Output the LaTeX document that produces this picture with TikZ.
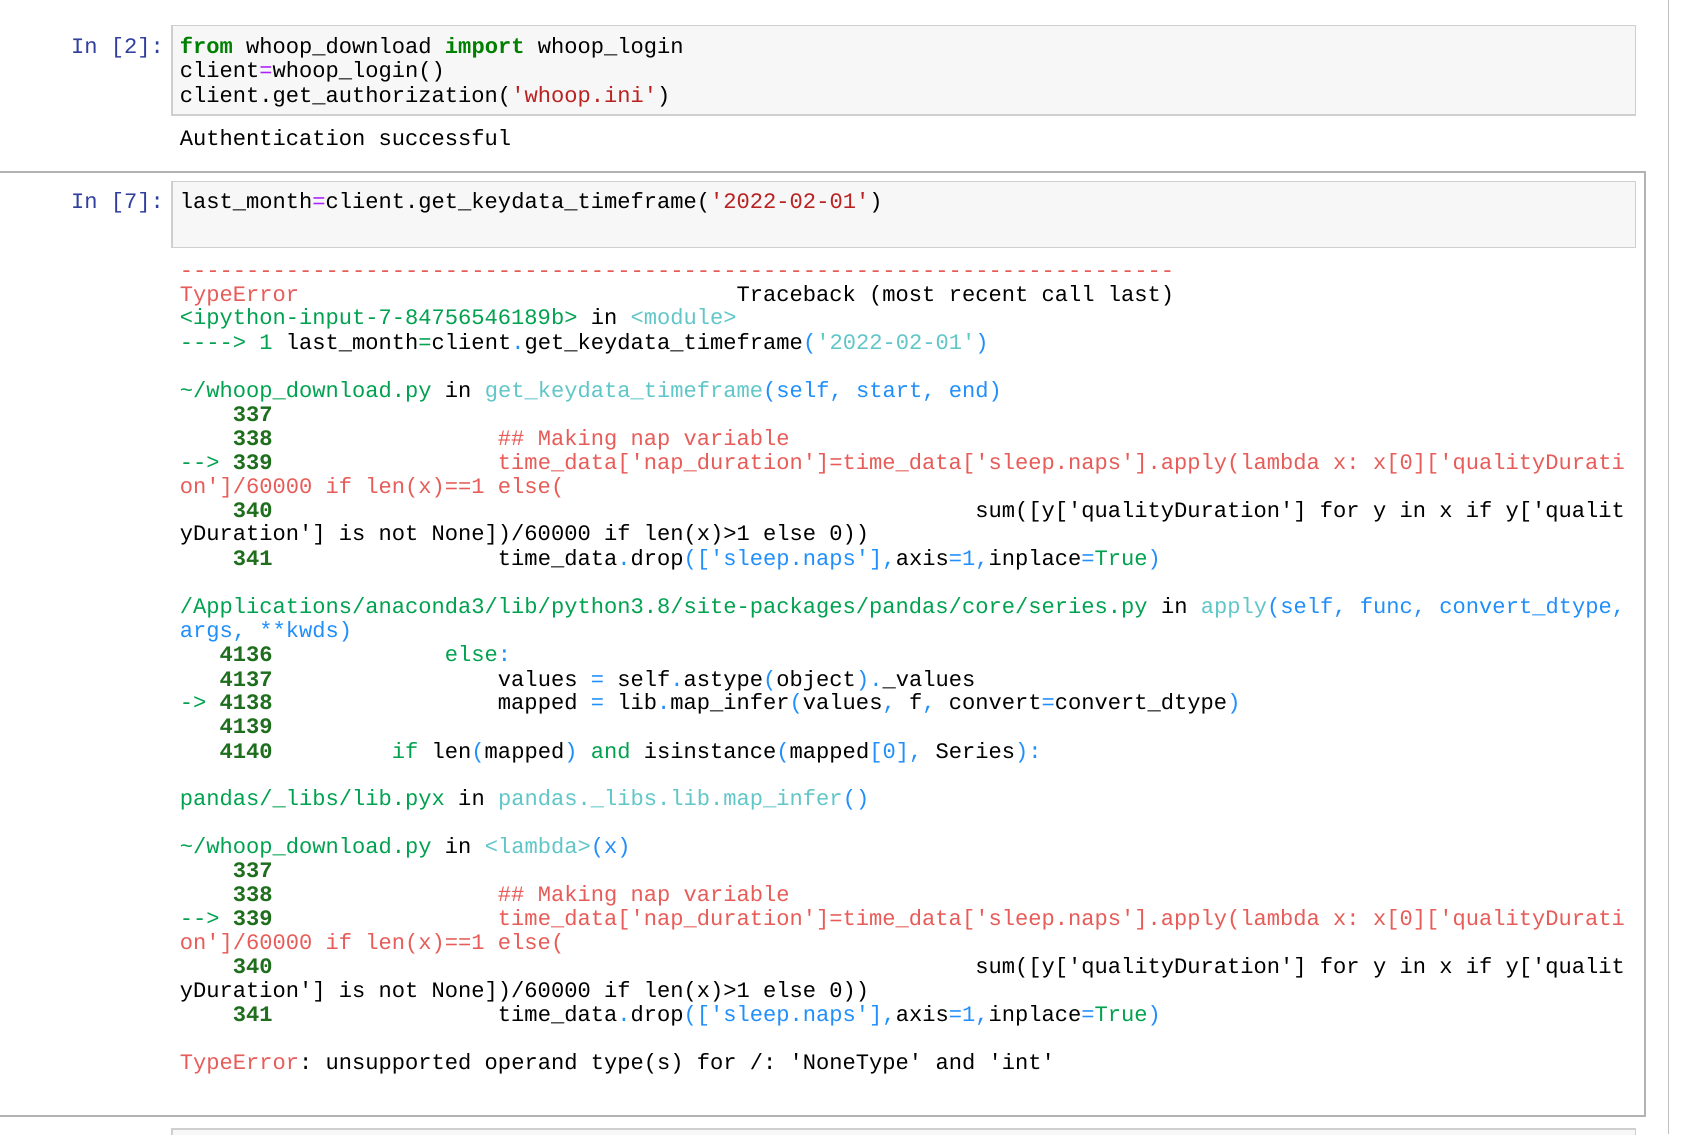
\documentclass[tikz,border=0pt]{standalone}
\usepackage{fontspec}
\setmonofont{Liberation Mono}
\begin{document}
\begin{tikzpicture}[x=1pt,y=1pt]
\definecolor{kw}{HTML}{008000}\definecolor{op}{HTML}{AA22FF}\definecolor{st}{HTML}{BA2121}
\definecolor{ar}{HTML}{E75C58}\definecolor{ag}{HTML}{00A250}\definecolor{ac}{HTML}{60C6C8}
\definecolor{ab}{HTML}{208FFB}\definecolor{an}{HTML}{1E6E1E}\definecolor{pr}{HTML}{303F9F}
\newcommand\R[1]{\textcolor{ar}{#1}}\newcommand\G[1]{\textcolor{ag}{#1}}
\newcommand\C[1]{\textcolor{ac}{#1}}\newcommand\B[1]{\textcolor{ab}{#1}}
\newcommand\N[1]{\textcolor{an}{\bfseries #1}}
\newcommand\cl[3]{\node[txt] at (167+#1*12.33,-#2-8) {#3};}
\tikzset{txt/.style={anchor=base west,inner sep=0,font=\ttfamily\fontsize{20.55}{22}\selectfont},
 ibox/.style={draw=black!19,fill=black!3,line width=1.2}}
\useasboundingbox (0,0) rectangle (1568,-1055);
\fill[white] (0,0) rectangle (1568,-1055);
\draw[black!25,line width=1.2] (1552,0) -- (1552,-1055);
\draw[black!30,line width=1.5] (-2,-160) -- (1530,-160) -- (1530,-1038) -- (-2,-1038);
\draw[ibox] (160,-24) rectangle (1521,-107);
\draw[ibox] (160,-169) rectangle (1521,-230);
\draw[ibox] (160,-1050) rectangle (1521,-1060);
\node[txt,text=pr] at (66,-50) {In [2]:};
\node[txt,text=pr] at (66,-194) {In [7]:};
\cl{0}{42}{\textcolor{kw}{\bfseries from} whoop\_download \textcolor{kw}{\bfseries import} whoop\_login}
\cl{0}{64}{client\textcolor{op}{=}whoop\_login()}
\cl{0}{87}{client.get\_authorization(\textcolor{st}{'whoop.ini'})}
\cl{0}{127}{Authentication successful}
\cl{0}{186}{last\_month\textcolor{op}{=}client.get\_keydata\_timeframe(\textcolor{st}{'2022-02-01'})}
\cl{0}{250}{\R{---------------------------------------------------------------------------}}
\cl{0}{272}{\R{TypeError}}
\cl{42}{272}{Traceback (most recent call last)}
\cl{0}{294}{\G{<ipython-input-7-84756546189b>} in \C{<module>}}
\cl{0}{317}{\G{---->} \G{1} last\_month\G{=}client\B{.}get\_keydata\_timeframe\B{(}\C{'2022-02-01'}\B{)}}
\cl{0}{362}{\G{\textasciitilde/whoop\_download.py} in \C{get\_keydata\_timeframe}\B{(self, start, end)}}
\cl{4}{384}{\N{337}}
\cl{4}{406}{\N{338}}\cl{24}{406}{\R{\#\# Making nap variable}}
\cl{0}{429}{\G{-->} \N{339}}\cl{24}{429}{\R{time\_data['nap\_duration']=time\_data['sleep.naps'].apply(lambda x: x[0]['qualityDurati}}
\cl{0}{451}{\R{on']/60000 if len(x)==1 else(}}
\cl{4}{473}{\N{340}}\cl{60}{473}{sum([y['qualityDuration'] for y in x if y['qualit}
\cl{0}{495}{yDuration'] is not None])/60000 if len(x)>1 else 0))}
\cl{4}{518}{\N{341}}\cl{24}{518}{time\_data\B{.}drop\B{(['sleep.naps'],}axis\B{=1,}inplace\B{=}\G{True}\B{)}}
\cl{0}{563}{\G{/Applications/anaconda3/lib/python3.8/site-packages/pandas/core/series.py} in \C{apply}\B{(self, func, convert\_dtype,}}
\cl{0}{585}{\B{args, **kwds)}}
\cl{3}{607}{\N{4136}}\cl{20}{607}{\G{else}\B{:}}
\cl{3}{630}{\N{4137}}\cl{24}{630}{values \B{=} self\B{.}astype\B{(}object\B{).}\_values}
\cl{0}{652}{\G{->} \N{4138}}\cl{24}{652}{mapped \B{=} lib\B{.}map\_infer\B{(}values\B{,} f\B{,} convert\B{=}convert\_dtype\B{)}}
\cl{3}{674}{\N{4139}}
\cl{3}{697}{\N{4140}}\cl{16}{697}{\G{if} len\B{(}mapped\B{)} \G{and} isinstance\B{(}mapped\B{[0],} Series\B{):}}
\cl{0}{741}{\G{pandas/\_libs/lib.pyx} in \C{pandas.\_libs.lib.map\_infer}\B{()}}
\cl{0}{786}{\G{\textasciitilde/whoop\_download.py} in \C{<lambda>}\B{(x)}}
\cl{4}{808}{\N{337}}
\cl{4}{830}{\N{338}}\cl{24}{830}{\R{\#\# Making nap variable}}
\cl{0}{853}{\G{-->} \N{339}}\cl{24}{853}{\R{time\_data['nap\_duration']=time\_data['sleep.naps'].apply(lambda x: x[0]['qualityDurati}}
\cl{0}{875}{\R{on']/60000 if len(x)==1 else(}}
\cl{4}{897}{\N{340}}\cl{60}{897}{sum([y['qualityDuration'] for y in x if y['qualit}
\cl{0}{920}{yDuration'] is not None])/60000 if len(x)>1 else 0))}
\cl{4}{942}{\N{341}}\cl{24}{942}{time\_data\B{.}drop\B{(['sleep.naps'],}axis\B{=1,}inplace\B{=}\G{True}\B{)}}
\cl{0}{987}{\R{TypeError}: unsupported operand type(s) for /: 'NoneType' and 'int'}
\end{tikzpicture}
\end{document}
